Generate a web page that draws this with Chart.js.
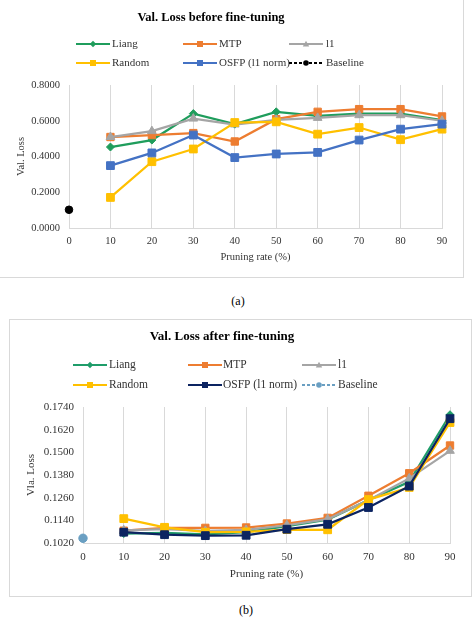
<!DOCTYPE html>
<html lang="en">
<head>
    <meta charset="UTF-8">
    <title>Val. Loss before / after fine-tuning</title>
    <script src="https://cdn.jsdelivr.net/npm/chart.js"></script>
    <style>
        body {
            margin: 0;
            background-color: #ffffff;
            font-family: "Liberation Serif", "Times New Roman", serif;
        }
        .box {
            position: absolute;
            border: 1px solid #d9d9d9;
            background-color: #ffffff;
        }
        #boxA { left: -1px; top: -1px; width: 463px; height: 277px; }
        #boxB { left: 9px; top: 319px; width: 461px; height: 276px; }
        .caption {
            position: absolute;
            width: 40px;
            text-align: center;
            font-size: 12px;
            color: #000;
        }
        canvas { display: block; }
    </style>
</head>
<body>
    <div class="box" id="boxA"><canvas id="chartA" width="463" height="277"></canvas></div>
    <div class="caption" style="left:218px; top:294px;">(a)</div>
    <div class="box" id="boxB"><canvas id="chartB" width="461" height="276"></canvas></div>
    <div class="caption" style="left:226px; top:603px;">(b)</div>

    <script>
        // x categories
        const pruningRates = ['0', '10', '20', '30', '40', '50', '60', '70', '80', '90'];
        const seriesNames = ['Liang', 'MTP', 'l1', 'Random', 'OSFP (l1 norm)', 'Baseline'];

        // (a) before fine-tuning
        const beforeLiang  = [null, 0.453, 0.492, 0.640, 0.581, 0.650, 0.627, 0.640, 0.640, 0.603];
        const beforeMTP    = [null, 0.509, 0.520, 0.531, 0.484, 0.609, 0.650, 0.665, 0.665, 0.624];
        const beforeL1     = [null, 0.509, 0.542, 0.612, 0.579, 0.605, 0.616, 0.631, 0.631, 0.600];
        const beforeRandom = [null, 0.171, 0.371, 0.442, 0.590, 0.594, 0.525, 0.562, 0.494, 0.553];
        const beforeOSFP   = [null, 0.349, 0.420, 0.520, 0.394, 0.414, 0.423, 0.492, 0.553, 0.581];
        const beforeBase   = [0.102, null, null, null, null, null, null, null, null, null];

        // (b) after fine-tuning
        const afterLiang  = [null, 0.1070, 0.1073, 0.1066, 0.1077, 0.1109, 0.1144, 0.1247, 0.1344, 0.1699];
        const afterMTP    = [null, 0.1085, 0.1100, 0.1100, 0.1102, 0.1123, 0.1153, 0.1270, 0.1389, 0.1536];
        const afterL1     = [null, 0.1087, 0.1094, 0.1084, 0.1089, 0.1114, 0.1146, 0.1247, 0.1362, 0.1508];
        const afterRandom = [null, 0.1149, 0.1103, 0.1077, 0.1079, 0.1091, 0.1090, 0.1250, 0.1314, 0.1658];
        const afterOSFP   = [null, 0.1077, 0.1064, 0.1059, 0.1061, 0.1093, 0.1119, 0.1208, 0.1321, 0.1678];
        const afterBase   = [0.1045, null, null, null, null, null, null, null, null, null];

        Chart.defaults.font.family = '"Liberation Serif", "Times New Roman", serif';
        Chart.defaults.color = '#333';

        function drawMarker(ctx, style, x, y, r, color) {
            ctx.fillStyle = color;
            ctx.beginPath();
            if (style === 'rect') {
                ctx.rect(x - r, y - r, 2 * r, 2 * r);
            } else if (style === 'rectRot') {
                ctx.moveTo(x, y - r); ctx.lineTo(x + r, y); ctx.lineTo(x, y + r); ctx.lineTo(x - r, y);
                ctx.closePath();
            } else if (style === 'triangle') {
                ctx.moveTo(x, y - r); ctx.lineTo(x + r, y + r * 0.8); ctx.lineTo(x - r, y + r * 0.8);
                ctx.closePath();
            } else {
                ctx.arc(x, y, r, 0, Math.PI * 2);
            }
            ctx.fill();
        }

        // title + two-row legend laid out like the Excel original
        const excelLegend = {
            id: 'excelLegend',
            afterDraw(chart, args, opts) {
                const ctx = chart.ctx;
                ctx.save();
                ctx.font = opts.titleFont;
                ctx.fillStyle = '#000';
                ctx.textAlign = 'center';
                ctx.textBaseline = 'middle';
                ctx.fillText(opts.title, opts.titleX, opts.titleY);

                ctx.font = opts.font;
                ctx.textAlign = 'left';
                chart.data.datasets.forEach((ds, i) => {
                    const col = i % 3, row = Math.floor(i / 3);
                    const x = opts.cols[col], y = opts.rows[row];
                    ctx.strokeStyle = ds.borderColor;
                    ctx.lineWidth = ds.legendWidth || 2;
                    ctx.setLineDash(ds.borderDash || []);
                    ctx.beginPath();
                    ctx.moveTo(x, y);
                    ctx.lineTo(x + 34, y);
                    ctx.stroke();
                    ctx.setLineDash([]);
                    drawMarker(ctx, ds.pointStyle, x + 17, y, ds.legendRadius || 3, ds.pointBackgroundColor);
                    ctx.fillStyle = '#333';
                    ctx.fillText(ds.label, opts.textX[col], y);
                });
                ctx.restore();
            }
        };

        function makeDataset(label, data, color, style, radius, order, dashed) {
            return {
                label: label,
                data: data,
                borderColor: color,
                backgroundColor: color,
                pointBackgroundColor: color,
                pointBorderColor: color,
                pointBorderWidth: 1,
                pointStyle: style,
                pointRadius: radius,
                borderWidth: 2.25,
                borderDash: dashed ? [3, 2] : undefined,
                showLine: !dashed,
                tension: 0,
                order: order,
                legendRadius: style === 'rect' ? 3 : (style === 'circle' ? 2.8 : 3.2)
            };
        }

        function buildOptions(cfg) {
            return {
                responsive: false,
                animation: false,
                layout: { padding: { top: cfg.plotTop, right: cfg.padRight, left: 0, bottom: 0 } },
                plugins: {
                    legend: { display: false },
                    tooltip: { enabled: false },
                    excelLegend: cfg.legend
                },
                scales: {
                    x: {
                        type: 'category',
                        offset: false,
                        afterFit: (scale) => { scale.height = cfg.xHeight; },
                        grid: { color: '#d9d9d9', lineWidth: 1, drawTicks: false },
                        border: { display: true, color: '#d9d9d9', width: 1 },
                        ticks: { font: { size: cfg.fontSize }, color: '#333', padding: cfg.xTickPad, maxRotation: 0 },
                        title: {
                            display: true,
                            text: 'Pruning rate (%)',
                            font: { size: cfg.fontSize },
                            color: '#333',
                            padding: { top: 0, bottom: cfg.xTitlePad }
                        }
                    },
                    y: {
                        min: cfg.yMin,
                        max: cfg.yMax,
                        afterFit: (scale) => { scale.width = cfg.yWidth; },
                        grid: { display: false, drawTicks: false },
                        border: { display: false },
                        ticks: {
                            stepSize: cfg.yStep,
                            font: { size: cfg.fontSize },
                            color: '#333',
                            padding: 9,
                            callback: (v) => Number(v).toFixed(4)
                        },
                        title: {
                            display: true,
                            text: cfg.yTitle,
                            font: { size: cfg.fontSize },
                            color: '#333',
                            padding: { top: 15, bottom: 0 }
                        }
                    }
                }
            };
        }

        new Chart(document.getElementById('chartA').getContext('2d'), {
            type: 'line',
            data: {
                labels: pruningRates,
                datasets: [
                    makeDataset(seriesNames[0], beforeLiang, '#1f9d5c', 'rectRot', 4, 6),
                    makeDataset(seriesNames[1], beforeMTP, '#ed7d31', 'rect', 5.2, 5),
                    makeDataset(seriesNames[2], beforeL1, '#a5a5a5', 'triangle', 5, 4),
                    makeDataset(seriesNames[3], beforeRandom, '#ffc000', 'rect', 5.5, 3),
                    makeDataset(seriesNames[4], beforeOSFP, '#4472c4', 'rect', 5.5, 2),
                    makeDataset(seriesNames[5], beforeBase, '#000000', 'circle', 3.8, 1, true)
                ]
            },
            options: buildOptions({
                plotTop: 85, padRight: 21, xHeight: 49, yWidth: 69,
                fontSize: 10.5, xTickPad: 7, xTitlePad: 13.5,
                yMin: 0, yMax: 0.8, yStep: 0.2, yTitle: 'Val. Loss',
                legend: {
                    title: 'Val. Loss before fine-tuning',
                    titleFont: 'bold 12.5px "Liberation Serif", "Times New Roman", serif',
                    titleX: 211, titleY: 18,
                    font: '11px "Liberation Serif", "Times New Roman", serif',
                    cols: [76, 183, 289], textX: [112, 219, 326], rows: [44, 63]
                }
            }),
            plugins: [excelLegend]
        });

        new Chart(document.getElementById('chartB').getContext('2d'), {
            type: 'line',
            data: {
                labels: pruningRates,
                datasets: [
                    makeDataset(seriesNames[0], afterLiang, '#1f9d6a', 'rectRot', 4, 6),
                    makeDataset(seriesNames[1], afterMTP, '#ed7d31', 'rect', 5.2, 5),
                    makeDataset(seriesNames[2], afterL1, '#a5a5a5', 'triangle', 5, 4),
                    makeDataset(seriesNames[3], afterRandom, '#ffc000', 'rect', 5.5, 3),
                    makeDataset(seriesNames[4], afterOSFP, '#0c2461', 'rect', 5.5, 2),
                    makeDataset(seriesNames[5], afterBase, '#6a9fc2', 'circle', 4.2, 1, true)
                ]
            },
            options: buildOptions({
                plotTop: 87, padRight: 21, xHeight: 53, yWidth: 73,
                fontSize: 11, xTickPad: 7.5, xTitlePad: 15,
                yMin: 0.102, yMax: 0.174, yStep: 0.012, yTitle: 'Vla. Loss',
                legend: {
                    title: 'Val. Loss after fine-tuning',
                    titleFont: 'bold 13px "Liberation Serif", "Times New Roman", serif',
                    titleX: 212, titleY: 17,
                    font: '11.5px "Liberation Serif", "Times New Roman", serif',
                    cols: [63, 178, 292], textX: [99, 213, 328], rows: [45, 65]
                }
            }),
            plugins: [excelLegend]
        });
    </script>
</body>
</html>
